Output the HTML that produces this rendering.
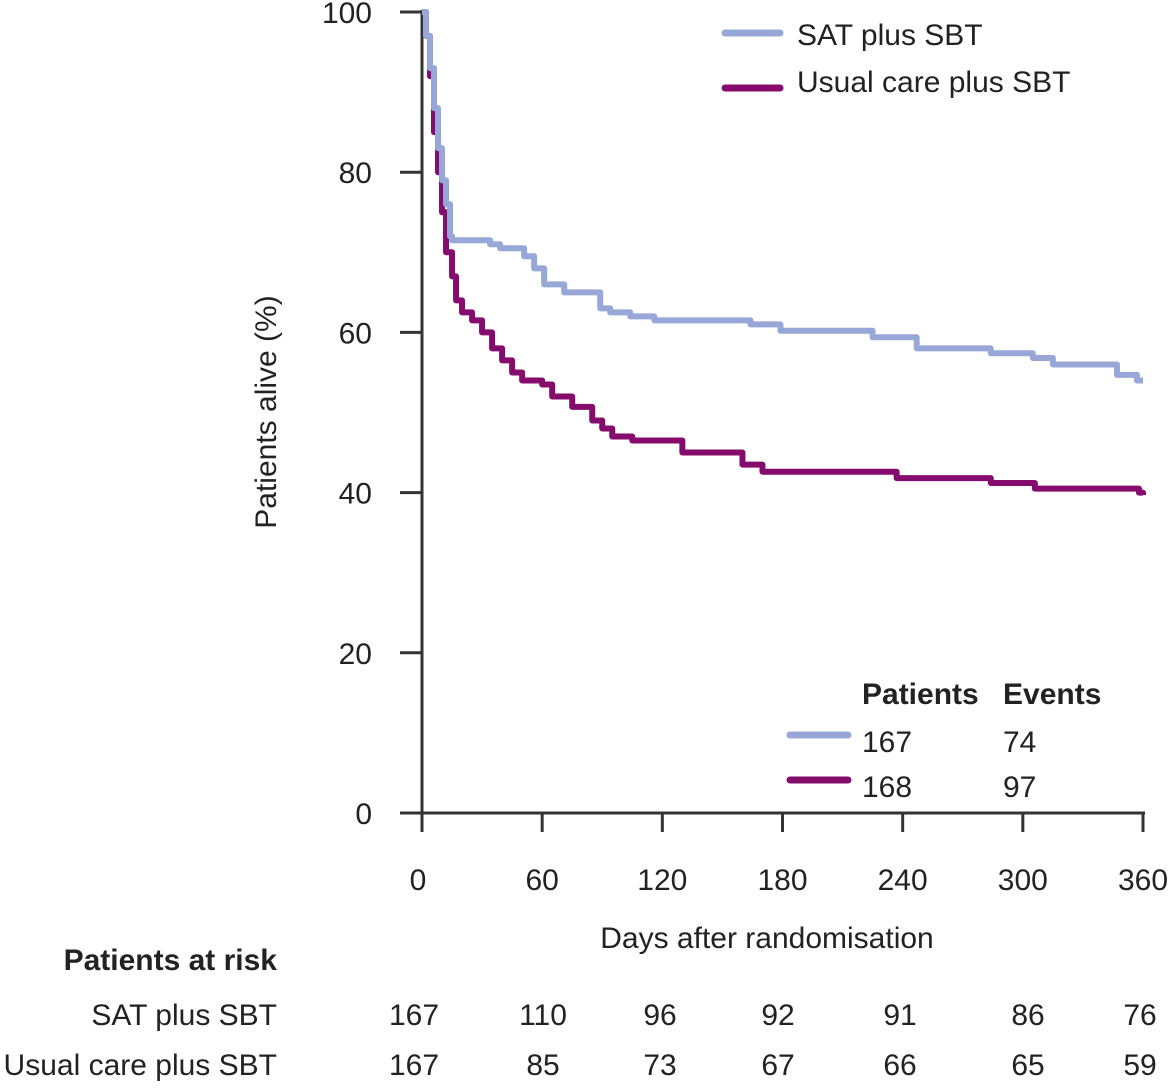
<!DOCTYPE html>
<html><head><meta charset="utf-8"><style>
body{margin:0;background:#fff;}
svg{display:block;font-family:"Liberation Sans",sans-serif;}
</style></head><body>
<svg width="1170" height="1090" viewBox="0 0 1170 1090">
<g id="axes"></g>
<g id="curves"></g>
<g>
 <line x1="725" y1="33" x2="780" y2="33" stroke="#97a8d8" stroke-width="7" stroke-linecap="round"/>
 <text x="797" y="45" font-size="30" fill="#222">SAT plus SBT</text>
 <line x1="725" y1="88" x2="780" y2="88" stroke="#850b6d" stroke-width="7" stroke-linecap="round"/>
 <text x="797" y="92" font-size="30" fill="#222">Usual care plus SBT</text>
</g>
<g font-size="30" fill="#222">
 <text x="862" y="704" font-weight="bold">Patients</text>
 <text x="1003" y="704" font-weight="bold">Events</text>
 <line x1="790" y1="735" x2="848" y2="735" stroke="#97a8d8" stroke-width="7" stroke-linecap="round"/>
 <text x="862" y="752">167</text>
 <text x="1003" y="752">74</text>
 <line x1="790" y1="780" x2="848" y2="780" stroke="#850b6d" stroke-width="7" stroke-linecap="round"/>
 <text x="862" y="797">168</text>
 <text x="1003" y="797">97</text>
</g>
<text x="0" y="0" font-size="30" fill="#222" text-anchor="middle" transform="translate(276,412) rotate(-90)">Patients  alive (%)</text>
<text x="767" y="948" font-size="30" fill="#222" text-anchor="middle">Days after randomisation</text>
<g id="risk" font-size="30" fill="#222">
 <text x="277" y="970" font-weight="bold" text-anchor="end">Patients at risk</text>
 <text x="277" y="1025" text-anchor="end">SAT plus SBT</text>
 <text x="277" y="1075" text-anchor="end">Usual care plus SBT</text>
</g>
</svg>
<script>
const xTicks=[0,60,120,180,240,300,360];
const yTicks=[0,20,40,60,80,100];
const satDays=[0,2,4,6,8,10,12,14,15,34,39,51,56,61,71,89,94,104,116,164,179,225,247,284,305,315,347,357,360];
const satSurv=[100,97,93,88,83,79,76,72,71.5,71,70.5,69.5,68,66,65,63,62.5,62,61.5,61,60.2,59.4,58,57.4,56.8,56,54.7,54,54];
const ucDays=[0,2,4,6,8,10,12,15,17,20,25,30,35,40,45,50,60,65,75,85,90,95,105,130,160,170,237,284,306,358,360];
const ucSurv=[100,97,92,85,80,75,70,67,64,62.5,61.5,60,58,56.5,55,54,53.5,52,50.7,49,48,47,46.5,45,43.5,42.6,41.8,41.2,40.5,40,39.7];
const riskSat=[167,110,96,92,91,86,76];
const riskUsual=[167,85,73,67,66,65,59];
const NS='http://www.w3.org/2000/svg';
const X=d=>422+d*(1143-422)/360;
const Y=v=>813-v*(813-12)/100;
function mk(tag,attrs,parent){const e=document.createElementNS(NS,tag);for(const k in attrs)e.setAttribute(k,attrs[k]);parent.appendChild(e);return e;}
const axes=document.getElementById('axes');
let a=mk('line',{x1:422,y1:10,x2:422,y2:815,stroke:'#333','stroke-width':3},axes);


a=mk('line',{x1:420,y1:813,x2:1145,y2:813,stroke:'#333','stroke-width':3},axes);


yTicks.forEach(v=>{
 const t=mk('line',{x1:400,y1:Y(v),x2:422,y2:Y(v),stroke:'#333','stroke-width':3},axes);
 
 
 const l=mk('text',{x:372,y:Y(v)+11,'font-size':30,fill:'#222','text-anchor':'end'},axes);
 l.textContent=v;
 
 
});
xTicks.forEach(d=>{
 const t=mk('line',{x1:X(d),y1:813,x2:X(d),y2:832,stroke:'#333','stroke-width':3},axes);
 
 
 const l=mk('text',{x:X(d)-(d===0?4:0),y:890,'font-size':30,fill:'#222','text-anchor':'middle'},axes);
 l.textContent=d;
 
 
});
function stepPath(ds,vs){let p='M'+X(ds[0])+','+Y(vs[0]);for(let i=1;i<ds.length;i++){p+=' L'+X(ds[i])+','+Y(vs[i-1])+' L'+X(ds[i])+','+Y(vs[i]);}return p;}
const curves=document.getElementById('curves');
let c=mk('path',{d:stepPath(ucDays,ucSurv),fill:'none',stroke:'#850b6d','stroke-width':6,'stroke-linejoin':'round'},curves);


c=mk('path',{d:stepPath(satDays,satSurv),fill:'none',stroke:'#97a8d8','stroke-width':6,'stroke-linejoin':'round'},curves);


const risk=document.getElementById('risk');
const riskX=[414,543,660,778,900,1028,1140];
xTicks.forEach((d,i)=>{
 let t=mk('text',{x:riskX[i],y:1025,'text-anchor':'middle'},risk);
 t.textContent=riskSat[i];
 
 
 t=mk('text',{x:riskX[i],y:1075,'text-anchor':'middle'},risk);
 t.textContent=riskUsual[i];
 
 
});
</script>
</body></html>
